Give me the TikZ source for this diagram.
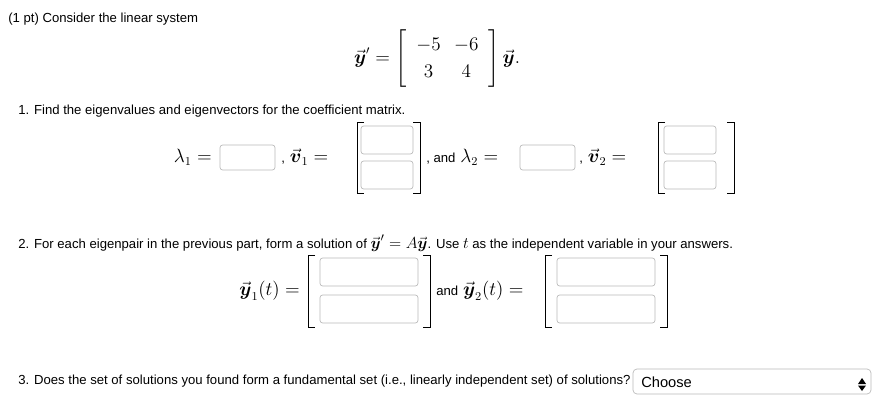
\documentclass[tikz,border=0pt]{standalone}
\usepackage{amsmath}
\usepackage{fontspec}
\setmainfont{Liberation Sans}
\tikzset{
 txt/.style={anchor=west,inner sep=0pt,font=\fontsize{9.85pt}{11pt}\selectfont},
 mth/.style={inner sep=0pt,font=\fontsize{13.5pt}{15pt}\selectfont},
 ansbox/.style={draw=gray!55,rounded corners=2pt,fill=white,line width=0.5pt},
 brk/.style={line width=0.7pt}
}
\newcommand{\vb}[1]{\vec{\boldsymbol{#1}}}
\begin{document}
\begin{tikzpicture}[x=0.75pt,y=-0.75pt]
\useasboundingbox[fill=white] (0,0) rectangle (879,410);
\node[txt] (t0) at (8,19) {(1 pt) Consider the linear system};
\node[mth] (eq) at (437,59) {$\vb{y}' = \renewcommand{\arraystretch}{1.35}\left[\,\begin{array}{cc} -5 & -6\\ 3 & 4\end{array}\,\right]\vb{y}.$};
\node[txt] (t1) at (18,111) {1. Find the eigenvalues and eigenvectors for the coefficient matrix.};
% row 1
\node[mth,anchor=east] (l1) at (212,157) {$\lambda_1 =$};
\draw[ansbox] (220,145) rectangle (275,170);
\node[mth,anchor=west] (v1) at (281,157) {{\fontsize{9.85pt}{11pt}\selectfont,} $\vb{v}_1 =$};
\draw[brk] (364,122) -- (357,122) -- (357,193) -- (364,193);
\draw[brk] (413,122) -- (420,122) -- (420,193) -- (413,193);
\draw[ansbox] (361,126) rectangle (413,154);
\draw[ansbox] (361,161) rectangle (413,189);
\node[mth,anchor=west] (l2) at (426,157) {{\fontsize{9.85pt}{11pt}\selectfont, and} $\lambda_2 =$};
\draw[ansbox] (520,145) rectangle (575,170);
\node[mth,anchor=west] (v2) at (579,157) {{\fontsize{9.85pt}{11pt}\selectfont,} $\vb{v}_2 =$};
\draw[brk] (665,122) -- (658,122) -- (658,193) -- (665,193);
\draw[brk] (727,122) -- (734,122) -- (734,193) -- (727,193);
\draw[ansbox] (664,126) rectangle (716,154);
\draw[ansbox] (664,161) rectangle (716,189);
% part 2
\node[txt] (t2) at (18,243) {2. For each eigenpair in the previous part, form a solution of {\fontsize{13pt}{13pt}\selectfont$\vb{y}' = A\vb{y}$}. Use {\fontsize{13pt}{13pt}\selectfont$t$} as the independent variable in your answers.};
\node[mth,anchor=east] (y1) at (300,291) {$\vb{y}_1(t) =$};
\draw[brk] (315,255) -- (308,255) -- (308,327) -- (315,327);
\draw[brk] (423,255) -- (430,255) -- (430,327) -- (423,327);
\draw[ansbox] (320,258) rectangle (418,286);
\draw[ansbox] (320,295) rectangle (418,323);
\node[mth,anchor=west] (y2) at (436,291) {{\fontsize{9.85pt}{11pt}\selectfont and} $\vb{y}_2(t) =$};
\draw[brk] (552,255) -- (545,255) -- (545,327) -- (552,327);
\draw[brk] (660,255) -- (667,255) -- (667,327) -- (660,327);
\draw[ansbox] (557,258) rectangle (655,286);
\draw[ansbox] (557,295) rectangle (655,323);
% part 3
\node[txt] (t3) at (18,381) {3. Does the set of solutions you found form a fundamental set (i.e., linearly independent set) of solutions?};
\draw[ansbox,rounded corners=3pt] (633,369) rectangle (871,394);
\node[txt,font=\fontsize{11pt}{13pt}\selectfont] (ch) at (641,382) {Choose};
\fill (862,378) -- (866,384) -- (858,384) -- cycle;
\fill (862,391) -- (866,385.5) -- (858,385.5) -- cycle;
\end{tikzpicture}
\end{document}
